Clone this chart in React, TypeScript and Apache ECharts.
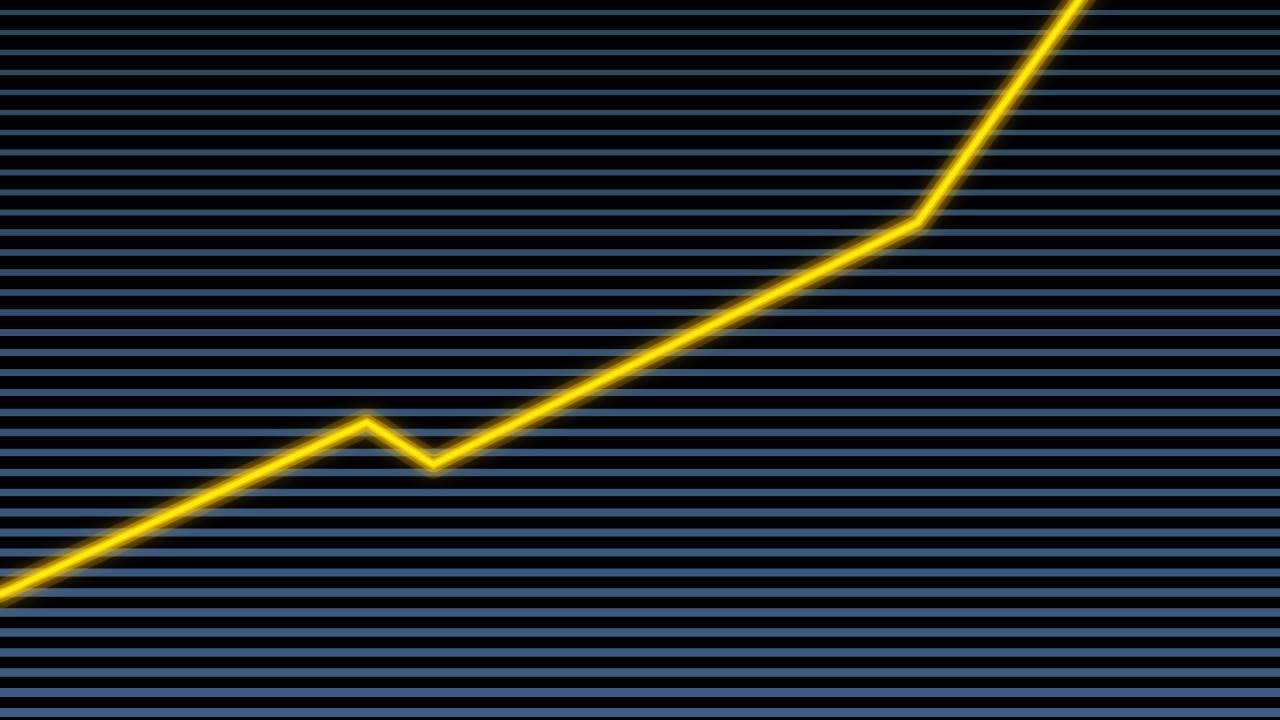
import React, { useEffect, useRef } from "react";
import * as echarts from "echarts";

// Line data (x in arbitrary units across the plot, y in stripe units)
const lineX = [0, 5.73, 6.77, 14.34, 20];
const lineY = [5.9, 14.5, 12.4, 24.5, 49.5];

// Stripe levels (one horizontal band per level)
const stripeLevels = Array.from({ length: 36 }, (_, i) => i);

const Y_MIN = -0.375;
const Y_MAX = 35.625;

function mix(a: number[], b: number[], t: number) {
  const c = a.map((v, i) => Math.round(v + (b[i] - v) * t));
  return `rgb(${c[0]},${c[1]},${c[2]})`;
}

export default function App() {
  const ref = useRef<HTMLDivElement>(null);
  useEffect(() => {
    if (!ref.current) return;
    const chart = echarts.init(ref.current, null, { renderer: "svg" });
    const topColor = [44, 70, 90];
    const botColor = [62, 92, 134];
    const pts = lineX.map((x, i) => [x, lineY[i]]);
    const glowLayer = (z: number, color: string, width: number, blur: number, shadow: string) => ({
      type: "line",
      z,
      symbol: "none",
      clip: true,
      silent: true,
      data: pts,
      lineStyle: { color, width, join: "round", cap: "round", shadowBlur: blur, shadowColor: shadow },
    });
    chart.setOption({
      animation: false,
      backgroundColor: "#010206",
      grid: { left: 0, right: 0, top: 0, bottom: 0 },
      xAxis: { type: "value", min: 0, max: 20, show: false },
      yAxis: { type: "value", min: Y_MIN, max: Y_MAX, show: false },
      series: [
        {
          type: "custom",
          silent: true,
          clip: true,
          z: 1,
          data: stripeLevels.map((v) => [0, v]),
          renderItem: (params: any, api: any) => {
            const cs = params.coordSys;
            const yc = api.coord([0, api.value(1)])[1];
            const t = Math.max(0, Math.min(1, (yc - cs.y) / cs.height));
            const h = 5 + 4 * t;
            return {
              type: "rect",
              shape: { x: cs.x, y: yc - h / 2, width: cs.width, height: h },
              style: { fill: mix(topColor, botColor, t) },
            };
          },
        },
        glowLayer(2, "rgba(255,180,0,0.16)", 28, 20, "rgba(255,170,0,0.9)"),
        glowLayer(3, "rgba(255,200,0,0.35)", 16, 14, "rgba(255,190,0,0.9)"),
        glowLayer(4, "rgba(255,220,0,0.6)", 9, 8, "rgba(255,210,0,0.9)"),
        {
          type: "line",
          z: 5,
          symbol: "none",
          clip: true,
          data: pts,
          lineStyle: {
            color: "#ffea10",
            width: 5,
            join: "round",
          },
        },
      ],
    });
    return () => chart.dispose();
  }, []);
  return (
    <div
      ref={ref}
      style={{ position: "fixed", left: 0, top: 0, width: 1280, height: 720 }}
    />
  );
}
